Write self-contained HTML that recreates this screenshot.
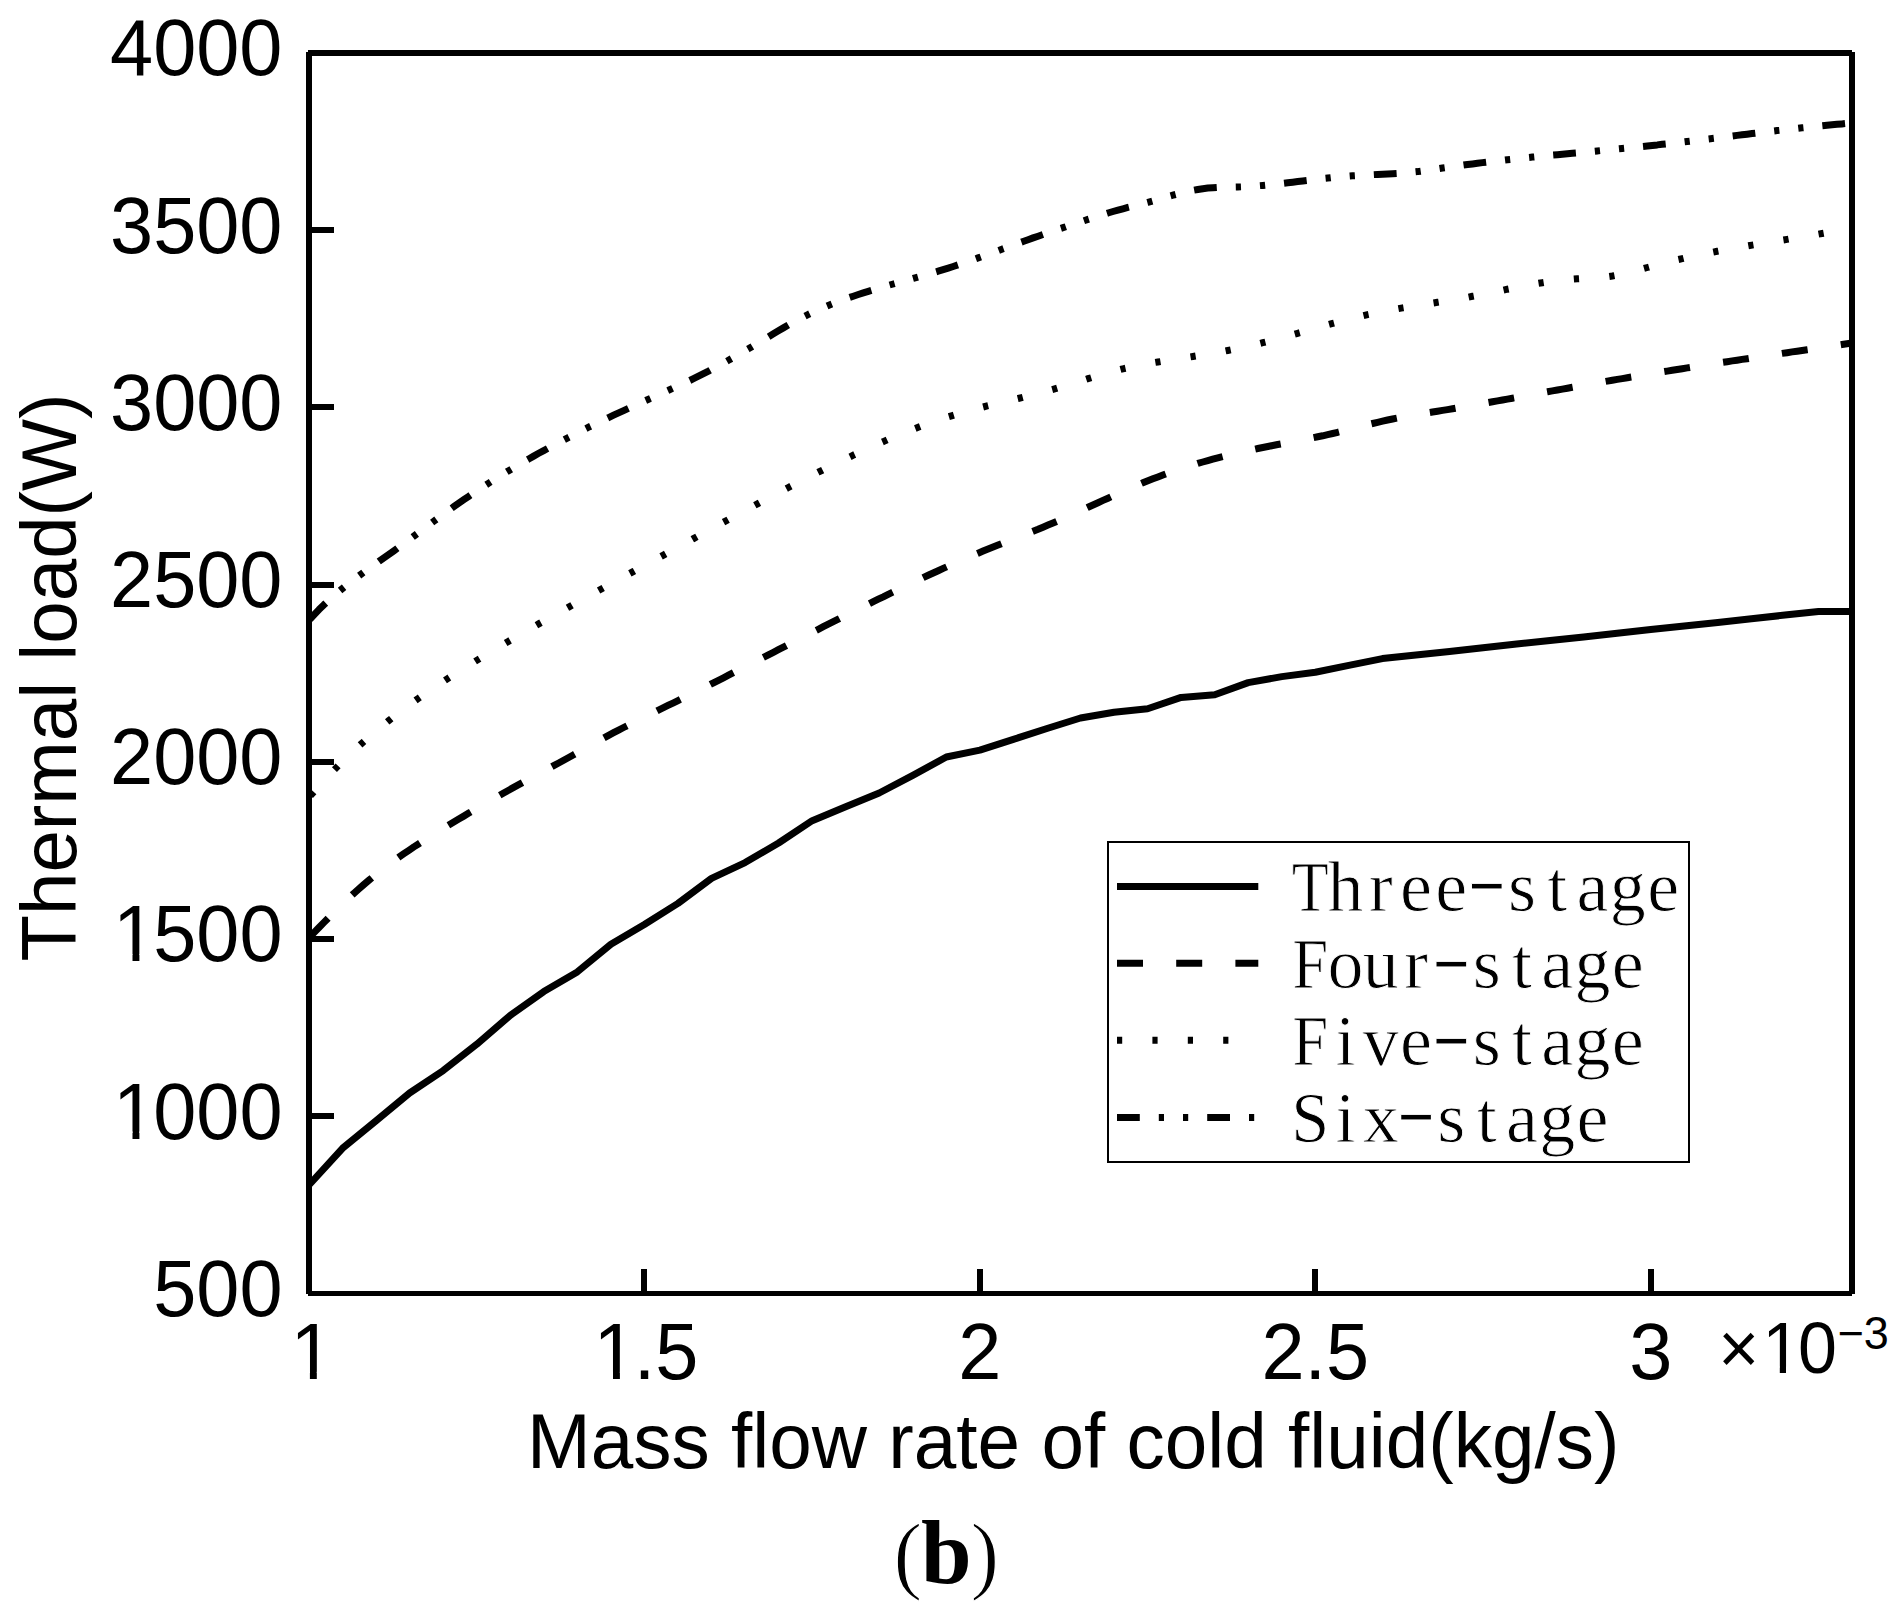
<!DOCTYPE html>
<html lang="en"><head><meta charset="utf-8"><title>Thermal load vs mass flow rate of cold fluid (b)</title>
<style>
html,body{margin:0;padding:0;background:#fff;}
body{width:1899px;height:1619px;overflow:hidden;}
svg{display:block;}
.sans{font-family:"Liberation Sans",Arial,Helvetica,sans-serif;fill:#000;}
.serif{font-family:"Liberation Serif","Times New Roman",serif;fill:#000;}
.tick{font-size:77.5px;}
.lbl{font-size:76.3px;}
.leg{font-size:72px;text-anchor:middle;}
.curve{fill:none;stroke:#000;stroke-width:7.0;stroke-linejoin:round;stroke-linecap:butt;}
</style></head><body>
<svg width="1899" height="1619" viewBox="0 0 1899 1619">
<rect x="0" y="0" width="1899" height="1619" fill="#fff"/>
<defs><clipPath id="plotclip"><rect x="306" y="50" width="1549" height="1246"/></clipPath></defs>
<g clip-path="url(#plotclip)">
<polyline class="curve" points="309.0,1185.0 342.5,1148.3 376.1,1120.7 409.6,1093.0 443.2,1070.6 476.7,1044.3 510.3,1015.3 543.8,991.6 577.3,971.9 610.9,944.3 644.4,924.5 678.0,903.4 711.5,878.4 745.1,862.6 778.6,843.0 812.2,820.7 845.7,806.7 879.2,793.0 912.8,775.4 946.3,757.0 979.9,750.1 1013.4,739.3 1047.0,728.5 1080.5,718.0 1114.0,712.2 1147.6,708.8 1181.1,697.4 1214.7,694.8 1248.2,682.6 1281.8,676.6 1315.3,672.3 1348.8,665.4 1382.4,658.6 1415.9,655.0 1449.5,651.4 1483.0,647.7 1516.6,644.1 1550.1,640.5 1583.7,636.9 1617.2,633.2 1650.7,629.6 1684.3,626.0 1717.8,622.4 1751.4,618.7 1784.9,615.1 1818.5,611.5 1852.0,611.5"/>
<polyline class="curve" stroke-dasharray="26 33.5" stroke-dashoffset="-1.5" points="309.0,938.0 314.0,932.7 319.0,927.5 324.0,922.4 329.0,917.3 334.0,912.3 339.0,907.4 344.0,902.6 348.9,897.9 353.9,893.3 358.9,888.9 363.9,884.5 368.9,880.3 373.9,876.2 378.9,872.2 383.9,868.3 388.9,864.5 393.9,860.8 398.9,857.2 403.9,853.7 408.9,850.3 413.9,846.9 418.9,843.7 423.9,840.4 428.8,837.2 433.8,834.1 438.8,831.0 443.8,828.0 448.8,825.0 453.8,822.0 458.8,819.0 463.8,816.1 468.8,813.1 473.8,810.2 478.8,807.3 483.8,804.4 488.8,801.5 493.8,798.6 498.8,795.8 503.7,793.0 508.7,790.2 513.7,787.4 518.7,784.7 523.7,781.9 528.7,779.2 533.7,776.5 538.7,773.8 543.7,771.1 548.7,768.4 553.7,765.7 558.7,763.0 563.7,760.2 568.7,757.5 573.7,754.7 578.7,751.9 583.6,749.1 588.6,746.3 593.6,743.6 598.6,740.8 603.6,738.1 608.6,735.4 613.6,732.7 618.6,730.1 623.6,727.5 628.6,725.0 633.6,722.4 638.6,719.9 643.6,717.5 648.6,715.0 653.6,712.6 658.5,710.1 663.5,707.7 668.5,705.2 673.5,702.8 678.5,700.3 683.5,697.8 688.5,695.4 693.5,692.9 698.5,690.4 703.5,687.9 708.5,685.4 713.5,682.8 718.5,680.3 723.5,677.8 728.5,675.2 733.4,672.7 738.4,670.2 743.4,667.6 748.4,665.1 753.4,662.5 758.4,659.9 763.4,657.4 768.4,654.8 773.4,652.3 778.4,649.7 783.4,647.2 788.4,644.6 793.4,642.0 798.4,639.5 803.4,636.9 808.4,634.4 813.3,631.8 818.3,629.3 823.3,626.7 828.3,624.2 833.3,621.7 838.3,619.2 843.3,616.6 848.3,614.1 853.3,611.6 858.3,609.1 863.3,606.6 868.3,604.2 873.3,601.7 878.3,599.2 883.3,596.8 888.2,594.3 893.2,591.9 898.2,589.5 903.2,587.1 908.2,584.7 913.2,582.3 918.2,580.0 923.2,577.6 928.2,575.3 933.2,573.0 938.2,570.7 943.2,568.4 948.2,566.2 953.2,564.0 958.2,561.8 963.2,559.6 968.1,557.4 973.1,555.3 978.1,553.2 983.1,551.1 988.1,549.1 993.1,547.1 998.1,545.1 1003.1,543.1 1008.1,541.1 1013.1,539.2 1018.1,537.2 1023.1,535.3 1028.1,533.3 1033.1,531.3 1038.1,529.3 1043.0,527.2 1048.0,525.1 1053.0,523.0 1058.0,520.9 1063.0,518.7 1068.0,516.4 1073.0,514.2 1078.0,511.9 1083.0,509.6 1088.0,507.3 1093.0,505.0 1098.0,502.7 1103.0,500.4 1108.0,498.2 1113.0,495.9 1118.0,493.6 1122.9,491.4 1127.9,489.2 1132.9,487.1 1137.9,484.9 1142.9,482.8 1147.9,480.8 1152.9,478.8 1157.9,476.9 1162.9,475.0 1167.9,473.2 1172.9,471.5 1177.9,469.8 1182.9,468.1 1187.9,466.5 1192.9,465.0 1197.8,463.4 1202.8,462.0 1207.8,460.6 1212.8,459.2 1217.8,457.9 1222.8,456.6 1227.8,455.3 1232.8,454.1 1237.8,452.9 1242.8,451.8 1247.8,450.6 1252.8,449.6 1257.8,448.5 1262.8,447.5 1267.8,446.5 1272.8,445.5 1277.7,444.5 1282.7,443.6 1287.7,442.7 1292.7,441.7 1297.7,440.8 1302.7,439.8 1307.7,438.8 1312.7,437.8 1317.7,436.8 1322.7,435.8 1327.7,434.6 1332.7,433.5 1337.7,432.3 1342.7,431.0 1347.7,429.8 1352.6,428.5 1357.6,427.2 1362.6,426.0 1367.6,424.7 1372.6,423.5 1377.6,422.3 1382.6,421.1 1387.6,420.0 1392.6,419.0 1397.6,418.0 1402.6,417.1 1407.6,416.2 1412.6,415.3 1417.6,414.4 1422.6,413.6 1427.6,412.8 1432.5,412.0 1437.5,411.2 1442.5,410.4 1447.5,409.6 1452.5,408.8 1457.5,407.9 1462.5,407.1 1467.5,406.2 1472.5,405.4 1477.5,404.5 1482.5,403.6 1487.5,402.7 1492.5,401.8 1497.5,400.9 1502.5,400.0 1507.4,399.1 1512.4,398.2 1517.4,397.3 1522.4,396.4 1527.4,395.5 1532.4,394.5 1537.4,393.6 1542.4,392.7 1547.4,391.8 1552.4,390.9 1557.4,390.0 1562.4,389.1 1567.4,388.2 1572.4,387.3 1577.4,386.4 1582.3,385.5 1587.3,384.6 1592.3,383.7 1597.3,382.9 1602.3,382.0 1607.3,381.1 1612.3,380.3 1617.3,379.4 1622.3,378.6 1627.3,377.7 1632.3,376.9 1637.3,376.0 1642.3,375.2 1647.3,374.4 1652.3,373.5 1657.3,372.7 1662.2,371.9 1667.2,371.1 1672.2,370.3 1677.2,369.5 1682.2,368.7 1687.2,367.9 1692.2,367.1 1697.2,366.3 1702.2,365.5 1707.2,364.8 1712.2,364.0 1717.2,363.2 1722.2,362.4 1727.2,361.7 1732.2,360.9 1737.1,360.2 1742.1,359.4 1747.1,358.7 1752.1,357.9 1757.1,357.2 1762.1,356.4 1767.1,355.7 1772.1,354.9 1777.1,354.2 1782.1,353.4 1787.1,352.7 1792.1,351.9 1797.1,351.2 1802.1,350.5 1807.1,349.7 1812.1,349.0 1817.0,348.2 1822.0,347.5 1827.0,346.7 1832.0,346.0 1837.0,345.3 1842.0,344.5 1847.0,343.8 1852.0,343.0"/>
<polyline class="curve" stroke-dasharray="5.2 30.4" stroke-dashoffset="-2.0" points="309.0,797.3 314.0,791.6 319.0,786.0 324.0,780.6 329.0,775.3 334.0,770.1 339.0,765.0 344.0,760.1 348.9,755.3 353.9,750.6 358.9,746.0 363.9,741.5 368.9,737.1 373.9,732.8 378.9,728.6 383.9,724.5 388.9,720.5 393.9,716.5 398.9,712.7 403.9,708.9 408.9,705.2 413.9,701.6 418.9,698.0 423.9,694.5 428.8,691.1 433.8,687.7 438.8,684.4 443.8,681.1 448.8,677.8 453.8,674.6 458.8,671.5 463.8,668.4 468.8,665.3 473.8,662.2 478.8,659.1 483.8,656.1 488.8,653.1 493.8,650.1 498.8,647.1 503.7,644.2 508.7,641.2 513.7,638.3 518.7,635.4 523.7,632.5 528.7,629.6 533.7,626.8 538.7,623.9 543.7,621.1 548.7,618.3 553.7,615.4 558.7,612.6 563.7,609.8 568.7,607.1 573.7,604.3 578.7,601.5 583.6,598.7 588.6,596.0 593.6,593.2 598.6,590.5 603.6,587.8 608.6,585.0 613.6,582.3 618.6,579.6 623.6,576.9 628.6,574.1 633.6,571.4 638.6,568.7 643.6,566.0 648.6,563.2 653.6,560.5 658.5,557.8 663.5,555.1 668.5,552.3 673.5,549.6 678.5,546.9 683.5,544.1 688.5,541.4 693.5,538.6 698.5,535.9 703.5,533.2 708.5,530.4 713.5,527.7 718.5,525.0 723.5,522.2 728.5,519.5 733.4,516.8 738.4,514.1 743.4,511.4 748.4,508.7 753.4,506.0 758.4,503.3 763.4,500.7 768.4,498.0 773.4,495.4 778.4,492.7 783.4,490.1 788.4,487.5 793.4,484.9 798.4,482.4 803.4,479.8 808.4,477.3 813.3,474.7 818.3,472.2 823.3,469.7 828.3,467.3 833.3,464.8 838.3,462.4 843.3,460.0 848.3,457.6 853.3,455.2 858.3,452.9 863.3,450.6 868.3,448.3 873.3,446.0 878.3,443.8 883.3,441.6 888.2,439.4 893.2,437.3 898.2,435.2 903.2,433.2 908.2,431.2 913.2,429.2 918.2,427.3 923.2,425.4 928.2,423.6 933.2,421.8 938.2,420.1 943.2,418.5 948.2,416.8 953.2,415.3 958.2,413.8 963.2,412.4 968.1,411.0 973.1,409.6 978.1,408.3 983.1,407.0 988.1,405.7 993.1,404.5 998.1,403.3 1003.1,402.1 1008.1,400.9 1013.1,399.7 1018.1,398.5 1023.1,397.2 1028.1,396.0 1033.1,394.7 1038.1,393.4 1043.0,392.1 1048.0,390.8 1053.0,389.4 1058.0,387.9 1063.0,386.5 1068.0,384.9 1073.0,383.4 1078.0,381.8 1083.0,380.3 1088.0,378.7 1093.0,377.2 1098.0,375.7 1103.0,374.2 1108.0,372.8 1113.0,371.4 1118.0,370.1 1122.9,368.8 1127.9,367.7 1132.9,366.6 1137.9,365.6 1142.9,364.6 1147.9,363.7 1152.9,362.8 1157.9,362.0 1162.9,361.2 1167.9,360.4 1172.9,359.6 1177.9,358.8 1182.9,358.1 1187.9,357.3 1192.9,356.5 1197.8,355.7 1202.8,354.9 1207.8,354.1 1212.8,353.2 1217.8,352.4 1222.8,351.5 1227.8,350.5 1232.8,349.5 1237.8,348.5 1242.8,347.4 1247.8,346.3 1252.8,345.2 1257.8,344.0 1262.8,342.7 1267.8,341.5 1272.8,340.2 1277.7,338.8 1282.7,337.5 1287.7,336.1 1292.7,334.7 1297.7,333.3 1302.7,331.9 1307.7,330.4 1312.7,329.0 1317.7,327.6 1322.7,326.2 1327.7,324.8 1332.7,323.4 1337.7,322.1 1342.7,320.7 1347.7,319.4 1352.6,318.2 1357.6,316.9 1362.6,315.8 1367.6,314.6 1372.6,313.6 1377.6,312.5 1382.6,311.5 1387.6,310.6 1392.6,309.7 1397.6,308.8 1402.6,307.9 1407.6,307.1 1412.6,306.3 1417.6,305.5 1422.6,304.7 1427.6,303.9 1432.5,303.1 1437.5,302.3 1442.5,301.5 1447.5,300.7 1452.5,299.9 1457.5,299.0 1462.5,298.2 1467.5,297.3 1472.5,296.3 1477.5,295.4 1482.5,294.4 1487.5,293.4 1492.5,292.3 1497.5,291.3 1502.5,290.3 1507.4,289.2 1512.4,288.2 1517.4,287.2 1522.4,286.2 1527.4,285.3 1532.4,284.4 1537.4,283.5 1542.4,282.7 1547.4,281.9 1552.4,281.3 1557.4,280.6 1562.4,280.1 1567.4,279.6 1572.4,279.2 1577.4,278.8 1582.3,278.5 1587.3,278.3 1592.3,278.0 1597.3,277.7 1602.3,277.3 1607.3,276.7 1612.3,276.0 1617.3,275.1 1622.3,274.1 1627.3,272.9 1632.3,271.6 1637.3,270.2 1642.3,268.9 1647.3,267.5 1652.3,266.1 1657.3,264.8 1662.2,263.5 1667.2,262.3 1672.2,261.0 1677.2,259.8 1682.2,258.7 1687.2,257.5 1692.2,256.4 1697.2,255.4 1702.2,254.3 1707.2,253.3 1712.2,252.3 1717.2,251.3 1722.2,250.4 1727.2,249.5 1732.2,248.6 1737.1,247.7 1742.1,246.8 1747.1,246.0 1752.1,245.1 1757.1,244.3 1762.1,243.4 1767.1,242.6 1772.1,241.8 1777.1,241.0 1782.1,240.2 1787.1,239.4 1792.1,238.5 1797.1,237.7 1802.1,236.9 1807.1,236.1 1812.1,235.2 1817.0,234.4 1822.0,233.5 1827.0,232.6 1832.0,231.7 1837.0,230.8 1842.0,229.9 1847.0,229.0 1852.0,228.0"/>
<polyline class="curve" stroke-dasharray="22.8 19.02 5.2 19.02 5.2 19.01" stroke-dashoffset="-1.2" points="309.0,620.2 314.0,614.8 319.0,609.6 324.0,604.7 329.0,600.1 334.0,595.6 339.0,591.4 344.0,587.3 348.9,583.3 353.9,579.5 358.9,575.8 363.9,572.1 368.9,568.5 373.9,565.0 378.9,561.4 383.9,557.9 388.9,554.4 393.9,550.8 398.9,547.1 403.9,543.5 408.9,539.8 413.9,536.1 418.9,532.4 423.9,528.7 428.8,525.0 433.8,521.3 438.8,517.6 443.8,513.9 448.8,510.3 453.8,506.7 458.8,503.2 463.8,499.7 468.8,496.3 473.8,492.9 478.8,489.6 483.8,486.3 488.8,483.1 493.8,479.9 498.8,476.8 503.7,473.7 508.7,470.7 513.7,467.7 518.7,464.8 523.7,461.8 528.7,459.0 533.7,456.1 538.7,453.3 543.7,450.6 548.7,447.9 553.7,445.2 558.7,442.5 563.7,439.9 568.7,437.3 573.7,434.8 578.7,432.2 583.6,429.7 588.6,427.2 593.6,424.8 598.6,422.4 603.6,420.0 608.6,417.6 613.6,415.2 618.6,412.9 623.6,410.6 628.6,408.3 633.6,406.0 638.6,403.7 643.6,401.4 648.6,399.2 653.6,397.0 658.5,394.7 663.5,392.5 668.5,390.3 673.5,388.0 678.5,385.7 683.5,383.4 688.5,381.1 693.5,378.7 698.5,376.2 703.5,373.7 708.5,371.2 713.5,368.5 718.5,365.9 723.5,363.1 728.5,360.3 733.4,357.5 738.4,354.6 743.4,351.7 748.4,348.8 753.4,345.8 758.4,342.8 763.4,339.8 768.4,336.8 773.4,333.8 778.4,330.8 783.4,327.9 788.4,325.0 793.4,322.2 798.4,319.5 803.4,316.9 808.4,314.4 813.3,312.0 818.3,309.7 823.3,307.5 828.3,305.4 833.3,303.4 838.3,301.5 843.3,299.7 848.3,297.9 853.3,296.2 858.3,294.5 863.3,292.9 868.3,291.3 873.3,289.8 878.3,288.3 883.3,286.9 888.2,285.4 893.2,284.0 898.2,282.6 903.2,281.2 908.2,279.8 913.2,278.4 918.2,277.0 923.2,275.6 928.2,274.1 933.2,272.7 938.2,271.2 943.2,269.6 948.2,268.1 953.2,266.5 958.2,264.8 963.2,263.1 968.1,261.4 973.1,259.7 978.1,257.9 983.1,256.1 988.1,254.3 993.1,252.5 998.1,250.7 1003.1,248.8 1008.1,247.0 1013.1,245.2 1018.1,243.3 1023.1,241.5 1028.1,239.7 1033.1,237.9 1038.1,236.2 1043.0,234.5 1048.0,232.7 1053.0,231.0 1058.0,229.3 1063.0,227.7 1068.0,226.0 1073.0,224.4 1078.0,222.7 1083.0,221.1 1088.0,219.4 1093.0,217.8 1098.0,216.2 1103.0,214.6 1108.0,213.0 1113.0,211.5 1118.0,210.1 1122.9,208.8 1127.9,207.4 1132.9,206.2 1137.9,204.9 1142.9,203.6 1147.9,202.3 1152.9,200.9 1157.9,199.5 1162.9,198.1 1167.9,196.6 1172.9,195.2 1177.9,193.9 1182.9,192.6 1187.9,191.4 1192.9,190.4 1197.8,189.5 1202.8,188.7 1207.8,188.1 1212.8,187.8 1217.8,187.5 1222.8,187.3 1227.8,187.2 1232.8,187.1 1237.8,187.0 1242.8,186.8 1247.8,186.5 1252.8,186.2 1257.8,185.8 1262.8,185.4 1267.8,184.9 1272.8,184.4 1277.7,183.9 1282.7,183.4 1287.7,182.8 1292.7,182.2 1297.7,181.6 1302.7,181.0 1307.7,180.4 1312.7,179.8 1317.7,179.2 1322.7,178.6 1327.7,178.1 1332.7,177.5 1337.7,177.0 1342.7,176.6 1347.7,176.2 1352.6,175.8 1357.6,175.5 1362.6,175.2 1367.6,174.9 1372.6,174.7 1377.6,174.4 1382.6,174.2 1387.6,173.9 1392.6,173.7 1397.6,173.4 1402.6,173.0 1407.6,172.6 1412.6,172.1 1417.6,171.6 1422.6,170.9 1427.6,170.3 1432.5,169.5 1437.5,168.8 1442.5,168.0 1447.5,167.3 1452.5,166.6 1457.5,165.9 1462.5,165.2 1467.5,164.5 1472.5,163.9 1477.5,163.3 1482.5,162.6 1487.5,162.0 1492.5,161.4 1497.5,160.9 1502.5,160.3 1507.4,159.7 1512.4,159.2 1517.4,158.7 1522.4,158.1 1527.4,157.6 1532.4,157.1 1537.4,156.6 1542.4,156.1 1547.4,155.6 1552.4,155.1 1557.4,154.7 1562.4,154.2 1567.4,153.7 1572.4,153.2 1577.4,152.8 1582.3,152.3 1587.3,151.8 1592.3,151.4 1597.3,150.9 1602.3,150.4 1607.3,149.9 1612.3,149.5 1617.3,149.0 1622.3,148.5 1627.3,148.0 1632.3,147.5 1637.3,147.0 1642.3,146.5 1647.3,146.0 1652.3,145.4 1657.3,144.9 1662.2,144.3 1667.2,143.8 1672.2,143.2 1677.2,142.6 1682.2,142.1 1687.2,141.5 1692.2,140.9 1697.2,140.3 1702.2,139.7 1707.2,139.1 1712.2,138.5 1717.2,137.9 1722.2,137.3 1727.2,136.6 1732.2,136.0 1737.1,135.4 1742.1,134.8 1747.1,134.2 1752.1,133.6 1757.1,133.0 1762.1,132.4 1767.1,131.8 1772.1,131.2 1777.1,130.6 1782.1,130.1 1787.1,129.5 1792.1,128.9 1797.1,128.4 1802.1,127.8 1807.1,127.3 1812.1,126.8 1817.0,126.3 1822.0,125.8 1827.0,125.3 1832.0,124.8 1837.0,124.3 1842.0,123.9 1847.0,123.4 1852.0,123.0"/>
</g>
<g fill="#000" shape-rendering="crispEdges">
<rect x="306" y="52" width="6" height="1242"/>
<rect x="308" y="50" width="1544" height="6"/>
<rect x="308" y="1291" width="1544" height="5"/>
<rect x="1849" y="52" width="6" height="1242"/>
<rect x="312" y="1113" width="22" height="6"/>
<rect x="312" y="936" width="22" height="6"/>
<rect x="312" y="759" width="22" height="6"/>
<rect x="312" y="582" width="22" height="6"/>
<rect x="312" y="404" width="22" height="6"/>
<rect x="312" y="227" width="22" height="6"/>
<rect x="641" y="1269" width="6" height="22"/>
<rect x="977" y="1269" width="6" height="22"/>
<rect x="1312" y="1269" width="6" height="22"/>
<rect x="1648" y="1269" width="6" height="22"/>
</g>
<g class="sans tick">
<text transform="translate(153.19 1315.8) scale(1 1.03)">500</text>
<text transform="translate(110.09 1138.6) scale(1 1.03)"><tspan dx="3.0">1</tspan><tspan dx="-3.0">0</tspan>00</text>
<text transform="translate(110.09 961.4) scale(1 1.03)"><tspan dx="3.0">1</tspan><tspan dx="-3.0">5</tspan>00</text>
<text transform="translate(110.09 784.2) scale(1 1.03)">2000</text>
<text transform="translate(110.09 606.9) scale(1 1.03)">2500</text>
<text transform="translate(110.09 429.7) scale(1 1.03)">3000</text>
<text transform="translate(110.09 252.5) scale(1 1.03)">3500</text>
<text transform="translate(110.09 75.3) scale(1 1.03)">4000</text>
</g>
<g class="sans tick">
<text transform="translate(287.45 1379.0) scale(1 1.03)"><tspan dx="3.0">1</tspan></text>
<text transform="translate(590.57 1379.0) scale(1 1.03)"><tspan dx="3.0">1</tspan><tspan dx="-3.0">.</tspan>5</text>
<text transform="translate(958.32 1379.0) scale(1 1.03)">2</text>
<text transform="translate(1261.44 1379.0) scale(1 1.03)">2.5</text>
<text transform="translate(1629.19 1379.0) scale(1 1.03)">3</text>
</g>
<text transform="translate(1718.30 1373.2) scale(1 1.03)" class="sans" font-size="70">×<tspan dx="3.0">1</tspan><tspan dx="-3.0">0</tspan><tspan font-size="45" dx="0.5" dy="-23.6">−3</tspan></text>
<text class="sans lbl" style="font-size:76.5px" transform="translate(527.1 1467.8) scale(1 1.015)">Mass flow rate of cold fluid(kg/s)</text>
<text class="sans lbl" transform="translate(76 961.6) rotate(-90) scale(1 1.015)">Thermal load(W)</text>
<text class="serif" font-size="86" y="1582.5" stroke="#fff" stroke-width="1.2"><tspan x="893.5">(</tspan><tspan x="921" y="1583" font-size="91" font-weight="bold" stroke="none">b</tspan><tspan x="970.5" y="1582.5">)</tspan></text>
<g fill="#fff"><rect x="117.7" y="1131.4" width="14.8" height="8.0"/><rect x="139.4" y="1131.4" width="14.0" height="8.0"/><rect x="117.7" y="954.2" width="14.8" height="8.0"/><rect x="139.4" y="954.2" width="14.0" height="8.0"/><rect x="295.1" y="1371.8" width="14.8" height="8.0"/><rect x="316.8" y="1371.8" width="14.0" height="8.0"/><rect x="598.2" y="1371.8" width="14.8" height="8.0"/><rect x="619.9" y="1371.8" width="14.0" height="8.0"/><rect x="1766.4" y="1366.6" width="13.4" height="7.4"/><rect x="1786.0" y="1366.6" width="12.6" height="7.4"/></g>
<rect x="1107.8" y="841.8" width="581.6" height="320.2" fill="#fff" stroke="#000" stroke-width="2" shape-rendering="crispEdges"/>
<line class="curve" x1="1117" y1="886.5" x2="1258.3" y2="886.5"/>
<line class="curve" x1="1117" y1="963.2" x2="1258.3" y2="963.2" stroke-dasharray="26 33.2"/>
<line class="curve" x1="1117" y1="1040.3" x2="1258.3" y2="1040.3" stroke-dasharray="5.2 30.2"/>
<line class="curve" x1="1117" y1="1117.4" x2="1258.3" y2="1117.4" stroke-dasharray="22.8 19 5.2 19 5.2 19"/>
<text class="serif leg" y="910.5" stroke="#fff" stroke-width="0.9"><tspan x="1310.2" textLength="37" lengthAdjust="spacingAndGlyphs">T</tspan><tspan x="1345.5 1380.8 1416.0 1451.3">hree</tspan><tspan x="1486.7" y="903.0" textLength="40" lengthAdjust="spacingAndGlyphs">-</tspan><tspan x="1522.0 1557.2 1592.5 1627.8 1663.2" y="910.5">stage</tspan></text>
<text class="serif leg" y="988.1" stroke="#fff" stroke-width="0.9"><tspan x="1310.2" textLength="36" lengthAdjust="spacingAndGlyphs">F</tspan><tspan x="1345.5 1380.8 1416.0">our</tspan><tspan x="1451.3" y="980.6" textLength="40" lengthAdjust="spacingAndGlyphs">-</tspan><tspan x="1486.7 1522.0 1557.2 1592.5 1627.8" y="988.1">stage</tspan></text>
<text class="serif leg" y="1065" stroke="#fff" stroke-width="0.9"><tspan x="1310.2" textLength="36" lengthAdjust="spacingAndGlyphs">F</tspan><tspan x="1345.5 1380.8 1416.0">ive</tspan><tspan x="1451.3" y="1057.5" textLength="40" lengthAdjust="spacingAndGlyphs">-</tspan><tspan x="1486.7 1522.0 1557.2 1592.5 1627.8" y="1065">stage</tspan></text>
<text class="serif leg" y="1141.8" stroke="#fff" stroke-width="0.9"><tspan x="1310.2" textLength="38" lengthAdjust="spacingAndGlyphs">S</tspan><tspan x="1345.5 1380.8">ix</tspan><tspan x="1416.0" y="1134.3" textLength="40" lengthAdjust="spacingAndGlyphs">-</tspan><tspan x="1451.3 1486.7 1522.0 1557.2 1592.5" y="1141.8">stage</tspan></text>
</svg>
</body></html>
